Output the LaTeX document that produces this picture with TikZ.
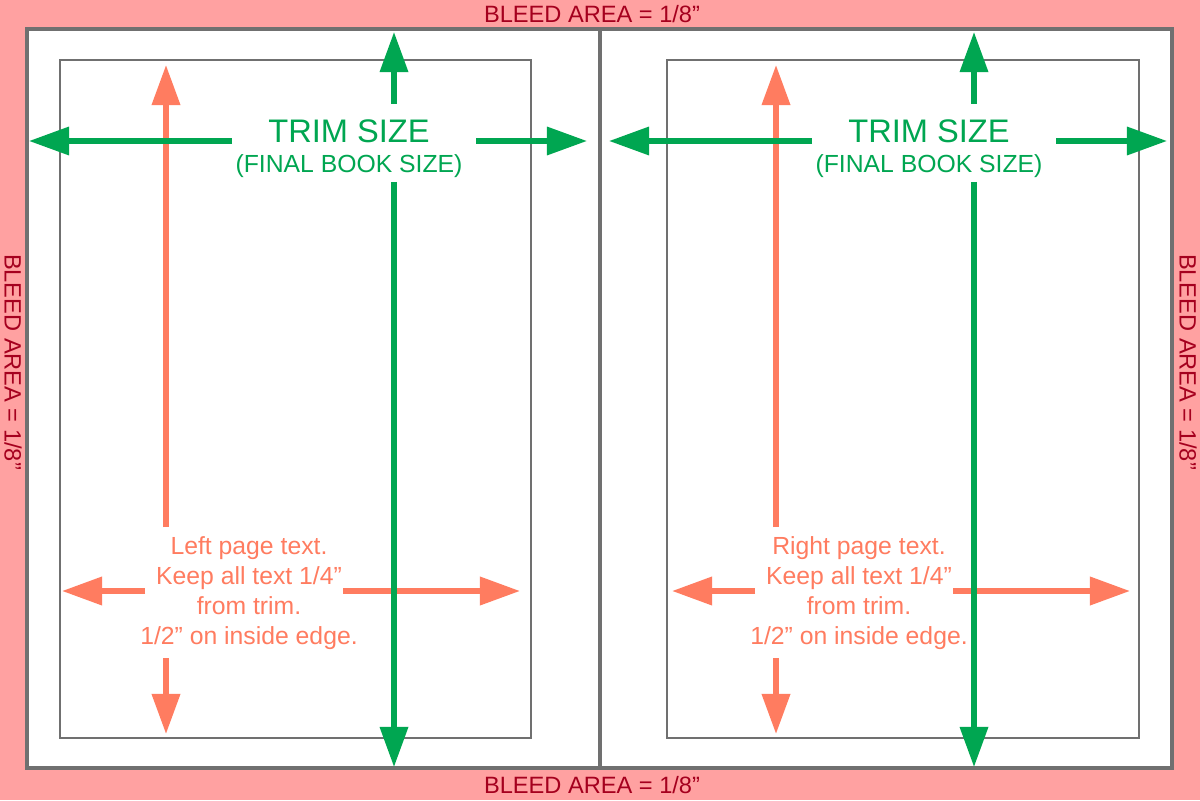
\documentclass[tikz,border=0pt]{standalone}
\usepackage{fontspec}
\setmainfont{Liberation Sans}
\usetikzlibrary{arrows.meta}

\definecolor{bleedpink}{RGB}{255,161,161}
\definecolor{bleedred}{RGB}{165,0,30}
\definecolor{trimgreen}{RGB}{0,166,81}
\definecolor{safeorange}{RGB}{255,124,96}
\definecolor{edgegray}{RGB}{112,112,112}

\tikzset{
	greenarrow/.style={trimgreen, line width=3.8pt, -{Triangle[length=28.5pt,width=19.5pt]}},
	orangearrow/.style={safeorange, line width=4pt, -{Triangle[length=28.5pt,width=19.5pt]}},
	bleedtext/.style={bleedred, inner sep=0pt, font=\fontsize{16.8}{20}\selectfont},
	trimtext/.style={trimgreen, inner sep=0pt, anchor=base, font=\fontsize{23.2}{27}\selectfont},
	finaltext/.style={trimgreen, inner sep=0pt, anchor=base, font=\fontsize{17.6}{21}\selectfont},
	notetext/.style={safeorange, inner sep=0pt, align=center, font=\fontsize{17.6}{21.3}\selectfont}
}

\begin{document}
\begin{tikzpicture}[x=0.025cm, y=-0.025cm]
	
	% Bleed background
	\fill[bleedpink] (0,0) rectangle (1200,800);
	\useasboundingbox (0,0) rectangle (1200,800);
	
	% Bleed labels
	\node[bleedtext] (bleedtop) at (592,14) {BLEED AREA = 1/8”};
	\node[bleedtext] (bleedbottom) at (592,785) {BLEED AREA = 1/8”};
	\node[bleedtext, rotate=-90] (bleedleft) at (13,362) {BLEED AREA = 1/8”};
	\node[bleedtext, rotate=-90] (bleedright) at (1188,362) {BLEED AREA = 1/8”};
	
	%% SPREAD
	% Outer edge and spine
	\filldraw[fill=white, draw=edgegray, line width=2.2pt] (27,29) rectangle (1172,768);
	\draw[edgegray, line width=2.2pt] (600,29) -- (600,768);
	
	% Trim boxes
	\draw[edgegray, line width=1.8pt] (60,60) rectangle (531,738);
	\draw[edgegray, line width=1.8pt] (667,60) rectangle (1139,738);
	
	%% PAGES
	\foreach \s/\g/\o/\w in {L/0/0/Left, R/580/610/Right}
	{
		% Safe text note
		\node[notetext] (note\s) at (249+\o,593) {\w{} page text.\\Keep all text 1/4”\\from trim.\\1/2” on inside edge.};
		\coordinate (on\s) at (166+\o,65);
		\coordinate (os\s) at (166+\o,734);
		\coordinate (ow\s) at (62+\o,591);
		\coordinate (oe\s) at (520+\o,591);
		\draw[orangearrow] (166+\o,527) -- (on\s);
		\draw[orangearrow] (166+\o,658) -- (os\s);
		\draw[orangearrow] (145+\o,591) -- (ow\s);
		\draw[orangearrow] (343+\o,591) -- (oe\s);
		
		% Trim size
		\node[trimtext] (trim\s) at (349+\g,143) {TRIM SIZE};
		\node[finaltext] (final\s) at (349+\g,173) {(FINAL BOOK SIZE)};
		\coordinate (gn\s) at (394+\g,32);
		\coordinate (gs\s) at (394+\g,767);
		\coordinate (gw\s) at (29+\g,141);
		\coordinate (ge\s) at (587+\g,141);
		\draw[greenarrow] (394+\g,104) -- (gn\s);
		\draw[greenarrow] (394+\g,182) -- (gs\s);
		\draw[greenarrow] (232+\g,141) -- (gw\s);
		\draw[greenarrow] (476+\g,141) -- (ge\s);
	}
	
\end{tikzpicture}
\end{document}
